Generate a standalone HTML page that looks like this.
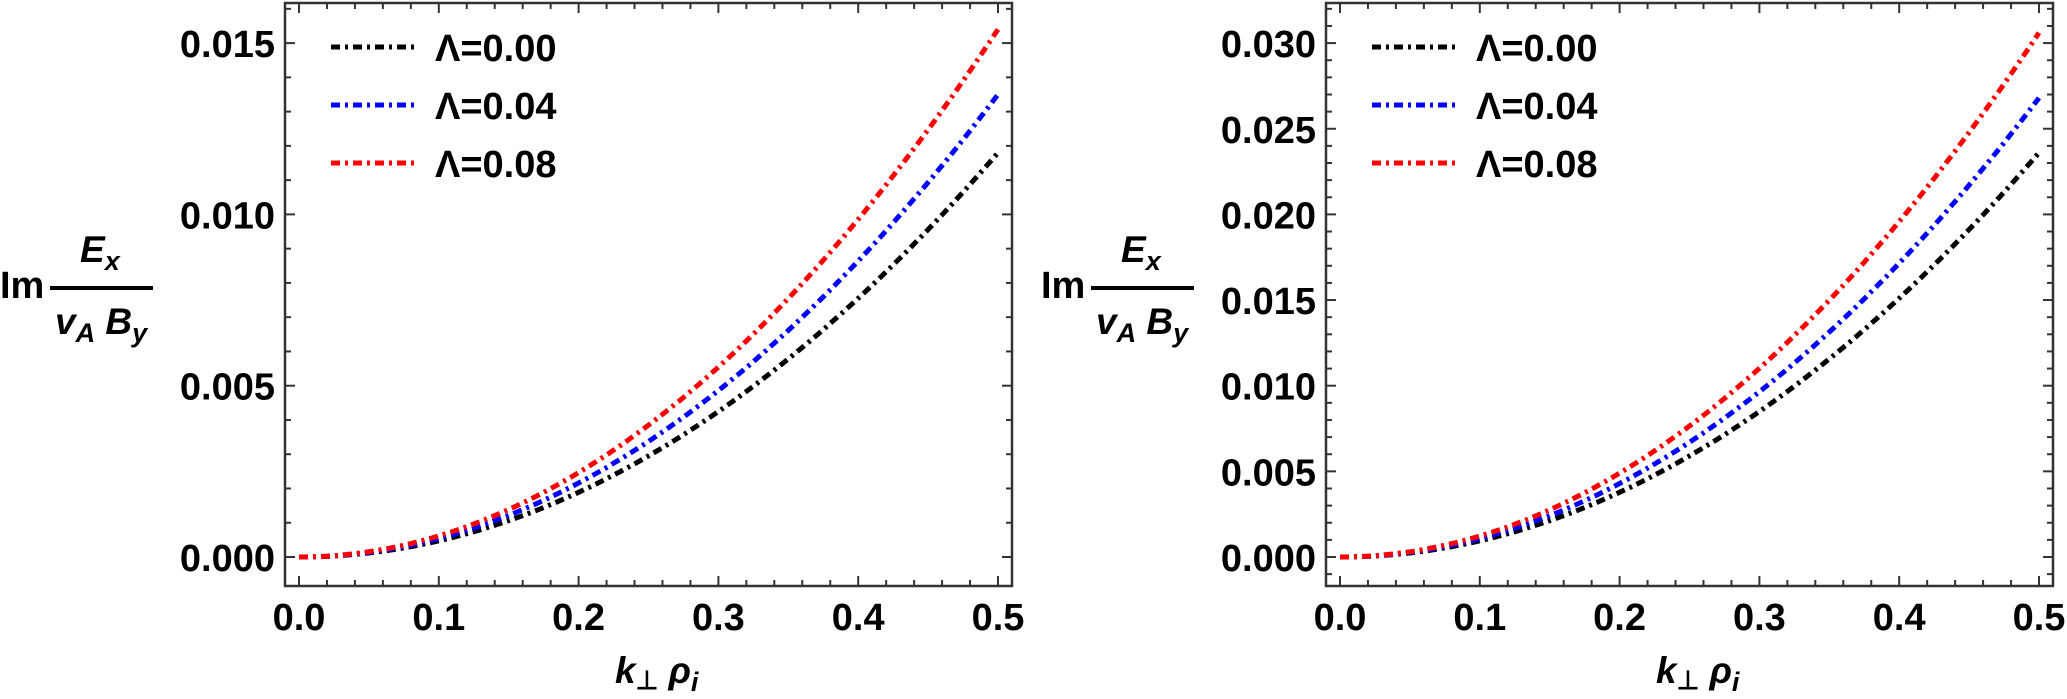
<!DOCTYPE html>
<html><head><meta charset="utf-8"><style>
html,body{margin:0;padding:0;background:#fff;}
svg{display:block;}
text{font-family:"Liberation Sans",sans-serif;font-weight:bold;fill:#000;}
</style></head><body>
<svg id="s" width="2067" height="699" viewBox="0 0 2067 699" xmlns="http://www.w3.org/2000/svg"></svg>
<script>
const s=document.getElementById('s');let h='';
function panel(fx,x0,ymaxv,ends){
  const fr=fx+727, top=3, bot=586, y0=557, pxPer=171.3*(0.015/ymaxv);
  const X=k=>x0+k*1398, Y=v=>y0-v/0.005*pxPer;
  h+=`<rect x="${fx}" y="${top}" width="${fr-fx}" height="${bot-top}" fill="none" stroke="#333" stroke-width="2.5"/>`;
  for(let i=0;i<=25;i++){const x=X(i*0.02),L=i%5==0?10:6;
    h+=`<line x1="${x}" y1="${bot}" x2="${x}" y2="${bot-L}" stroke="#333" stroke-width="2"/><line x1="${x}" y1="${top}" x2="${x}" y2="${top+L}" stroke="#333" stroke-width="2"/>`;
    if(i%5==0)h+=`<text x="${x}" y="630" font-size="38" text-anchor="middle">${(i*0.02).toFixed(1)}</text>`;}
  const step=0.001;
  for(let i=-2;i<=Math.round(ymaxv/step)+2;i++){const v=i*step,y=Y(v);if(y<top+2||y>bot-2)continue;const L=i%5==0?10:6;
    h+=`<line x1="${fx}" y1="${y}" x2="${fx+L}" y2="${y}" stroke="#333" stroke-width="2"/><line x1="${fr}" y1="${y}" x2="${fr-L}" y2="${y}" stroke="#333" stroke-width="2"/>`;
    if(i%5==0&&i>=0)h+=`<text x="${fx-10}" y="${y+14}" font-size="38" text-anchor="end">${v.toFixed(3)}</text>`;}
  const cols=['#000','#00f','#f00'];
  ends.forEach((e,j)=>{let d='';for(let i=0;i<=100;i++){const k=i*0.005;d+=(i?'L':'M')+X(k).toFixed(1)+','+Y(e*(k/0.5)**2).toFixed(1);}
    h+=`<path d="${d}" fill="none" stroke="${cols[j]}" stroke-width="5" stroke-dasharray="9,5,3,5"/>`;});
  ['Λ=0.00','Λ=0.04','Λ=0.08'].forEach((t,j)=>{const y=[47,105,163][j];
    h+=`<line x1="${fx+46}" y1="${y}" x2="${fx+133}" y2="${y}" stroke="${cols[j]}" stroke-width="5" stroke-dasharray="9,5,3,5"/>`;
    h+=`<text x="${fx+150}" y="${y+14}" font-size="38">${t}</text>`;});
  const o=fx-285;
  h+=`<text x="${o}" y="298" font-size="38">Im</text>`;
  h+=`<line x1="${o+50}" y1="288" x2="${o+153}" y2="288" stroke="#000" stroke-width="4"/>`;
  h+=`<text x="${o+80}" y="262" font-size="37" font-style="italic">E<tspan font-size="27" dy="8">x</tspan></text>`;
  h+=`<text x="${o+55}" y="334" font-size="37" font-style="italic">v<tspan font-size="27" dy="8">A</tspan><tspan dy="-8" font-size="37"> B</tspan><tspan font-size="27" dy="8">y</tspan></text>`;
  const cx=fx+(615-285);
  h+=`<text x="${cx}" y="683" font-size="37" font-style="italic">k<tspan font-size="26" dy="6" font-style="normal">⊥</tspan><tspan dy="-6"> ρ</tspan><tspan font-size="27" dy="8">i</tspan></text>`;
}
panel(285,299,0.015,[0.0118,0.0135,0.0154]);
panel(1326,1340,0.030,[0.0236,0.0268,0.0306]);
s.innerHTML=h;
</script>
</body></html>
